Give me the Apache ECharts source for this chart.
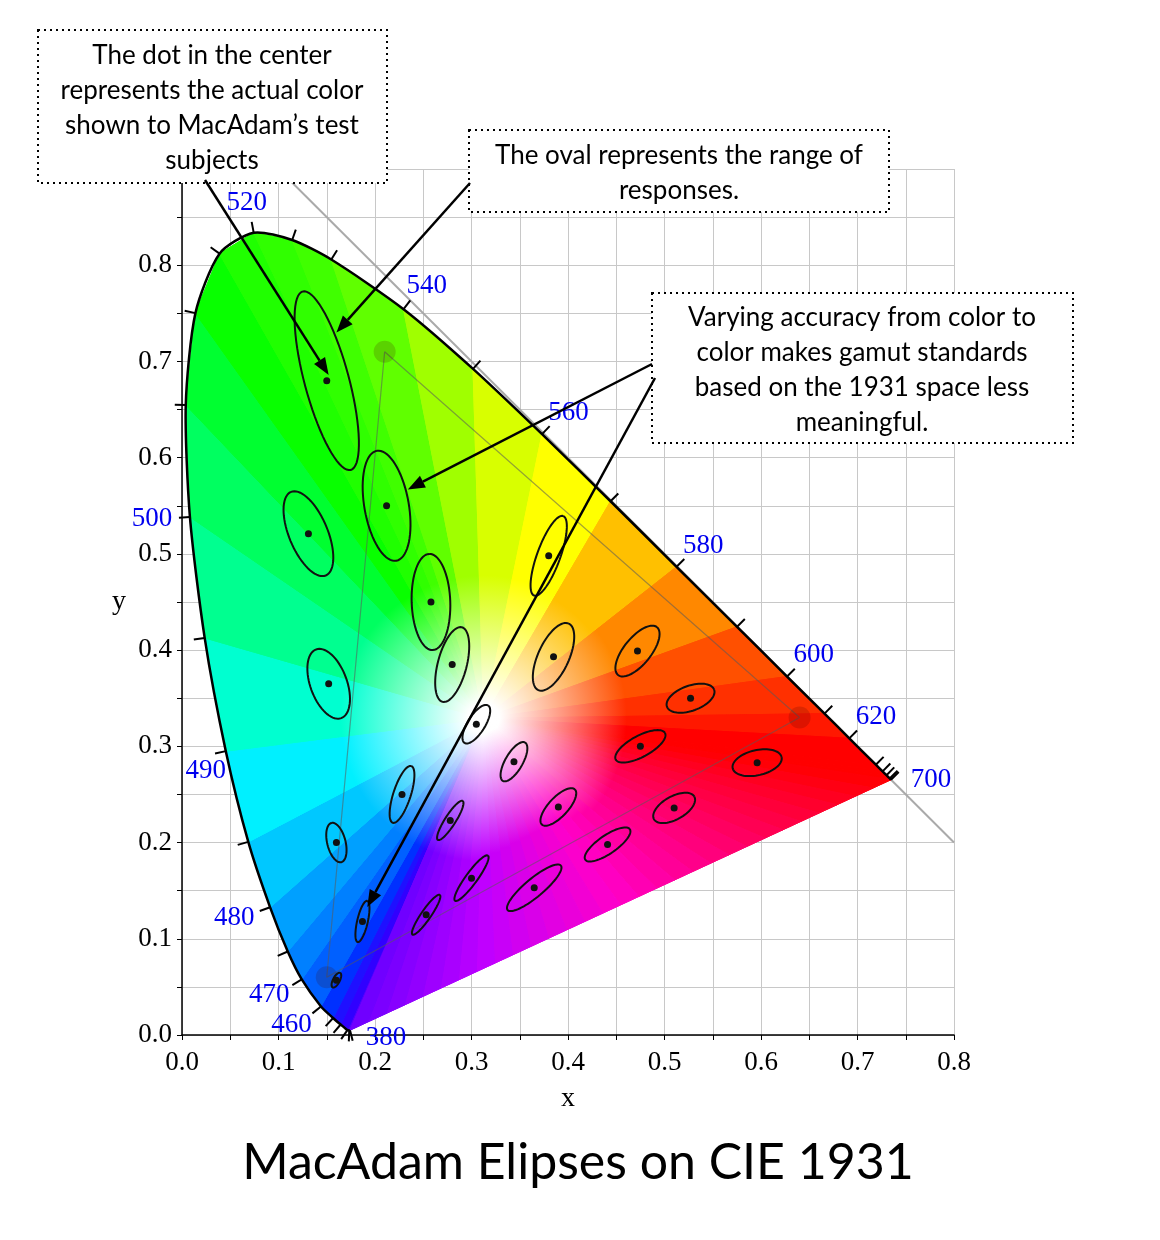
<!DOCTYPE html>
<html>
<head>
<meta charset="utf-8">
<script src="https://cdn.jsdelivr.net/npm/echarts@6/dist/echarts.min.js"></script>
<style>
  html, body { margin: 0; padding: 0; background: #fff; }
  #chart { width: 1160px; height: 1240px; }
</style>
</head>
<body>
<div id="chart"></div>
<script>
// spectral locus (CIE 1931 xy)
const wavelengths = [380, 400, 420, 440, 450, 460, 470, 475, 480, 485, 490, 495, 500, 505, 510, 515, 520, 525, 530, 540, 550, 560, 570, 580, 590, 600, 610, 620, 640, 650, 660, 680, 700];
const locusX = [0.1741, 0.1733, 0.1714, 0.1644, 0.1566, 0.1440, 0.1241, 0.1096, 0.0913, 0.0687, 0.0454, 0.0235, 0.0082, 0.0039, 0.0139, 0.0389, 0.0743, 0.1142, 0.1547, 0.2296, 0.3016, 0.3731, 0.4441, 0.5125, 0.5752, 0.6270, 0.6658, 0.6915, 0.7190, 0.7260, 0.7300, 0.7334, 0.7347];
const locusY = [0.0050, 0.0048, 0.0051, 0.0109, 0.0177, 0.0297, 0.0578, 0.0868, 0.1327, 0.2007, 0.2950, 0.4127, 0.5384, 0.6548, 0.7502, 0.8120, 0.8338, 0.8262, 0.8059, 0.7543, 0.6923, 0.6245, 0.5547, 0.4866, 0.4242, 0.3725, 0.3340, 0.3083, 0.2809, 0.2740, 0.2700, 0.2666, 0.2653];
const locusColor = ['#6a00ff', '#6000ff', '#5000ff', '#3000ff', '#1f10ff', '#0030ff', '#0060ff', '#0080ff', '#00a0ff', '#00c8ff', '#00f0ff', '#00ffd0', '#00ff90', '#00ff60', '#00ff30', '#08ff00', '#20ff00', '#30ff00', '#40ff00', '#60ff00', '#a0ff00', '#d8ff00', '#ffff00', '#ffc000', '#ff8800', '#ff5000', '#ff3000', '#ff1800', '#ff0000', '#ff0000', '#ff0000', '#ff0000', '#ff0000'];
const labeledWavelengths = [380, 460, 470, 480, 490, 500, 520, 540, 560, 580, 600, 620, 700];
const purpleColors = ['#6a00ff', '#c000ff', '#ff00c8', '#ff0060', '#ff0000'];
const whitePoint = [0.3127, 0.329];

// gamut triangle
const gamutX = [0.64, 0.21, 0.15];
const gamutY = [0.33, 0.71, 0.06];

// MacAdam ellipses (a, b in 1e-3, drawn 10x)
const ellX = [0.160, 0.187, 0.253, 0.150, 0.131, 0.212, 0.258, 0.152, 0.280, 0.380, 0.160, 0.228, 0.305, 0.385, 0.472, 0.527, 0.475, 0.510, 0.596, 0.344, 0.390, 0.441, 0.278, 0.300, 0.365];
const ellY = [0.057, 0.118, 0.125, 0.680, 0.521, 0.550, 0.450, 0.365, 0.385, 0.498, 0.200, 0.250, 0.323, 0.393, 0.399, 0.350, 0.300, 0.236, 0.283, 0.284, 0.237, 0.198, 0.223, 0.163, 0.153];
const ellA = [0.85, 2.2, 2.5, 9.6, 4.7, 5.8, 5.0, 3.8, 4.0, 4.4, 2.1, 3.1, 2.3, 3.8, 3.2, 2.6, 2.9, 2.4, 2.6, 2.3, 2.5, 2.8, 2.4, 2.9, 3.6];
const ellB = [0.35, 0.55, 0.5, 2.3, 2.0, 2.3, 2.0, 1.9, 1.5, 1.2, 0.95, 0.9, 0.9, 1.6, 1.4, 1.3, 1.1, 1.2, 1.3, 0.9, 1.0, 0.95, 0.55, 0.6, 0.95];
const ellAngle = [62.5, 77, 55.5, 105, 112.5, 100, 92, 110, 75.5, 70, 104, 72, 58, 65.5, 51, 20, 28.5, 29.5, 13, 60, 47, 34.5, 57.5, 54, 40];

function hexToRgb(h) {
  return [parseInt(h.slice(1, 3), 16), parseInt(h.slice(3, 5), 16), parseInt(h.slice(5, 7), 16)];
}
function mixColors(stops, t) {
  const n = stops.length - 1;
  const i = Math.min(Math.floor(t * n), n - 1);
  const f = t * n - i;
  const a = hexToRgb(stops[i]), b = hexToRgb(stops[i + 1]);
  return 'rgb(' + a.map((v, k) => Math.round(v + (b[k] - v) * f)).join(',') + ')';
}

const chart = echarts.init(document.getElementById('chart'));

function renderFill(params, api) {
  const w = api.coord(whitePoint);
  const edges = [];
  for (let i = 0; i < wavelengths.length - 1; i++) {
    edges.push([[locusX[i], locusY[i]], [locusX[i + 1], locusY[i + 1]], locusColor[i + 1]]);
  }
  const last = wavelengths.length - 1;
  const steps = 30;
  for (let s = 0; s < steps; s++) {
    const t0 = s / steps, t1 = (s + 1) / steps;
    const p0 = [locusX[last] + (locusX[0] - locusX[last]) * t0, locusY[last] + (locusY[0] - locusY[last]) * t0];
    const p1 = [locusX[last] + (locusX[0] - locusX[last]) * t1, locusY[last] + (locusY[0] - locusY[last]) * t1];
    edges.push([p0, p1, mixColors(purpleColors, 1 - (t0 + t1) / 2)]);
  }
  const children = edges.map(e => {
    const a = api.coord(e[0]), b = api.coord(e[1]);
    const r = Math.max(Math.hypot(a[0] - w[0], a[1] - w[1]), Math.hypot(b[0] - w[0], b[1] - w[1]));
    const grad = new echarts.graphic.RadialGradient(w[0], w[1], Math.min(r, 260), [
      { offset: 0, color: '#ffffff' },
      { offset: 0.06, color: '#ffffff' },
      { offset: 0.55, color: e[2] },
      { offset: 1, color: e[2] }
    ], true);
    return { type: 'polygon', shape: { points: [w, a, b] }, style: { fill: grad, stroke: grad, lineWidth: 1 } };
  });
  return { type: 'group', children: children };
}

function renderLocus(params, api) {
  const pts = wavelengths.map((_, i) => api.coord([locusX[i], locusY[i]]));
  const children = [{ type: 'polyline', shape: { points: pts, smooth: 0.25 }, style: { stroke: '#000', lineWidth: 2.5, fill: null } }];
  pts.forEach((p, i) => {
    const prev = pts[Math.max(i - 1, 0)], next = pts[Math.min(i + 1, pts.length - 1)];
    let tx = next[0] - prev[0], ty = next[1] - prev[1];
    const len = Math.hypot(tx, ty) || 1;
    tx /= len; ty /= len;
    const nx = ty, ny = -tx;
    children.push({ type: 'line', shape: { x1: p[0], y1: p[1], x2: p[0] + nx * 11, y2: p[1] + ny * 11 }, style: { stroke: '#000', lineWidth: 2 } });
    const wl = wavelengths[i];
    if (labeledWavelengths.indexOf(wl) >= 0) {
      let lx = p[0] + nx * 38, ly = p[1] + ny * 30;
      if (wl === 380) { lx = p[0] + 36; ly = p[1] + 8; }
      if (wl === 700) { lx = p[0] + 40; ly = p[1]; }
      if (wl === 490) { lx = p[0] - 20; ly = p[1] + 20; }
      children.push({ type: 'text', style: { text: String(wl), x: lx, y: ly, fill: '#0000ee', font: '27px "Liberation Serif"', align: 'center', verticalAlign: 'middle' } });
    }
  });
  return { type: 'group', children: children };
}

function renderEllipse(params, api) {
  const i = params.dataIndex;
  const a = ellA[i] * 0.01, b = ellB[i] * 0.01, th = ellAngle[i] * Math.PI / 180;
  const pts = [];
  for (let k = 0; k <= 72; k++) {
    const t = k / 72 * Math.PI * 2;
    const dx = a * Math.cos(t) * Math.cos(th) - b * Math.sin(t) * Math.sin(th);
    const dy = a * Math.cos(t) * Math.sin(th) + b * Math.sin(t) * Math.cos(th);
    pts.push(api.coord([ellX[i] + dx, ellY[i] + dy]));
  }
  const c = api.coord([ellX[i], ellY[i]]);
  return {
    type: 'group', children: [
      { type: 'polyline', shape: { points: pts }, style: { stroke: '#111', lineWidth: 2, fill: null } },
      { type: 'circle', shape: { cx: c[0], cy: c[1], r: 3.5 }, style: { fill: '#111' } }
    ]
  };
}

const labelFmt = v => (Math.abs(v * 10 - Math.round(v * 10)) < 1e-6 && v < 0.85) ? v.toFixed(1) : '';
const serif = '"Liberation Serif", "DejaVu Serif", serif';

chart.setOption({
  animation: false,
  grid: { left: 182, right: 206, top: 169, bottom: 205 },
  xAxis: {
    type: 'value', min: 0, max: 0.8, interval: 0.05,
    name: 'x', nameLocation: 'middle', nameGap: 50,
    nameTextStyle: { fontFamily: serif, fontSize: 28, color: '#000' },
    axisLine: { onZero: false, lineStyle: { color: '#000', width: 1.5 } },
    axisTick: { show: true, length: 5, lineStyle: { color: '#000' } },
    axisLabel: { formatter: labelFmt, fontFamily: serif, fontSize: 27, color: '#000', margin: 14 },
    splitLine: { lineStyle: { color: '#c8c8c8', width: 1 } }
  },
  yAxis: {
    type: 'value', min: 0, max: 0.9, interval: 0.05,
    name: 'y', nameLocation: 'middle', nameGap: 56, nameRotate: 0,
    nameTextStyle: { fontFamily: serif, fontSize: 28, color: '#000' },
    axisLine: { show: true, onZero: false, lineStyle: { color: '#000', width: 1.5 } },
    axisTick: { show: true, length: 5, lineStyle: { color: '#000' } },
    axisLabel: { formatter: labelFmt, fontFamily: serif, fontSize: 27, color: '#000', margin: 10 },
    splitLine: { lineStyle: { color: '#c8c8c8', width: 1 } }
  },
  series: [
    {
      type: 'line', data: [[0.1, 0.9], [0.8, 0.2]], symbol: 'none', z: 1,
      lineStyle: { color: '#aaa', width: 2 }, silent: true
    },
    { type: 'custom', renderItem: renderFill, data: [0], z: 2, silent: true, clip: false },
    {
      type: 'line', data: gamutX.map((x, i) => [x, gamutY[i]]).concat([[gamutX[0], gamutY[0]]]),
      symbol: 'none', z: 3, lineStyle: { color: 'rgba(90,90,90,0.55)', width: 1.2 }, silent: true
    },
    {
      type: 'scatter', data: gamutX.map((x, i) => [x, gamutY[i]]), symbolSize: 22, z: 3,
      itemStyle: { color: 'rgba(60,0,0,0.22)' }, silent: true
    },
    { type: 'custom', renderItem: renderLocus, data: [0], z: 4, silent: true, clip: false },
    { type: 'custom', renderItem: renderEllipse, data: ellX.map((_, i) => i), z: 5, silent: true, clip: false }
  ]
});

// annotations
const sans = '"Lato", "Open Sans", sans-serif';
function box(x, y, w, h, text, cx, ty) {
  return [
    { type: 'rect', shape: { x: x, y: y, width: w, height: h }, style: { fill: '#fff', stroke: '#000', lineWidth: 2, lineDash: [2, 4] }, z: 100 },
    { type: 'text', style: { text: text, x: cx, y: ty, font: '26px ' + sans, fill: '#000', align: 'center', lineHeight: 35 }, z: 101 }
  ];
}
function arrow(x1, y1, x2, y2) {
  const ang = Math.atan2(y2 - y1, x2 - x1), L = 17, W = 6.5;
  const bx = x2 - L * Math.cos(ang), by = y2 - L * Math.sin(ang);
  return [
    { type: 'line', shape: { x1: x1, y1: y1, x2: bx, y2: by }, style: { stroke: '#000', lineWidth: 2.5 }, z: 102 },
    { type: 'polygon', shape: { points: [[x2, y2], [bx + W * Math.sin(ang), by - W * Math.cos(ang)], [bx - W * Math.sin(ang), by + W * Math.cos(ang)]] }, style: { fill: '#000' }, z: 102 }
  ];
}
const px = p => chart.convertToPixel({ gridIndex: 0 }, p);
const t1 = px([0.152, 0.686]), t2 = px([0.160, 0.730]), t3 = px([0.234, 0.567]), t4 = px([0.192, 0.133]);
chart.setOption({
  graphic: [].concat(
    arrow(205, 180, t1[0], t1[1]),
    arrow(470, 183, t2[0], t2[1]),
    arrow(652, 364, t3[0], t3[1]),
    arrow(655, 378, t4[0], t4[1]),
    box(38, 30, 349, 153, 'The dot in the center\nrepresents the actual color\nshown to MacAdam\u2019s test\nsubjects', 212, 38),
    box(469, 130, 420, 82, 'The oval represents the range of\nresponses.', 679, 138),
    box(652, 293, 421, 150, 'Varying accuracy from color to\ncolor makes gamut standards\nbased on the 1931 space less\nmeaningful.', 862, 300),
    [{ type: 'text', style: { text: 'MacAdam Elipses on CIE 1931', x: 578, y: 1163, font: '50px ' + sans, fill: '#000', align: 'center', verticalAlign: 'middle' }, z: 101 }]
  )
});
</script>
</body>
</html>
